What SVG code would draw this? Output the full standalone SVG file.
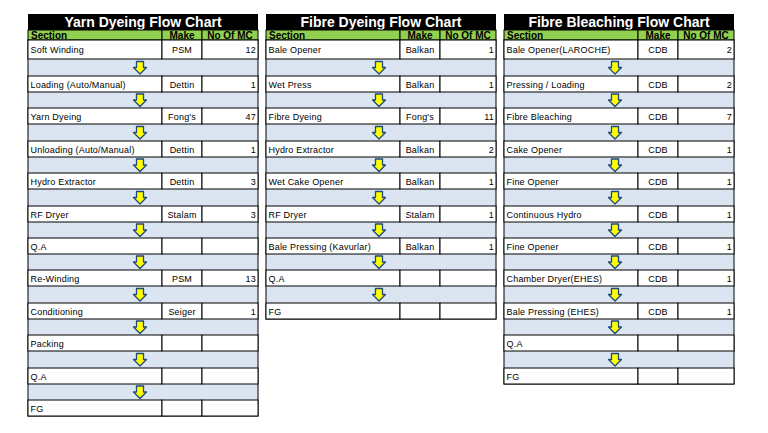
<svg xmlns="http://www.w3.org/2000/svg" width="768" height="433" viewBox="0 0 768 433">
<style>
.bg{fill:#fff}
.ttl{fill:#000}
.ttx{font-family:"Liberation Sans",Arial,sans-serif;font-weight:bold;font-size:14px;fill:#fff;text-anchor:middle}
.hd{fill:#92D050;stroke:#000;stroke-width:1}
.hx{font-family:"Liberation Sans",Arial,sans-serif;font-weight:bold;font-size:10px;fill:#000}
.c{fill:#fff;stroke:#000;stroke-width:1}
.band{fill:#DBE5F1;stroke:#000;stroke-width:1}
.tx{font-family:"Liberation Sans",Arial,sans-serif;font-size:9px;fill:#000;letter-spacing:0.2px}
.m{text-anchor:middle}
.n{text-anchor:end}
.arr{fill:#FFFF00;stroke:#1F497D;stroke-width:1.3;stroke-linejoin:round}
</style>
<defs>
<path id="arw" d="M-3.5,-6 H3.5 V0 H6.5 L0,6.5 L-6.5,0 H-3.5 Z"/>
</defs>
<rect class="bg" x="0" y="0" width="768" height="433"/>

<!-- ============ Table 1: Yarn Dyeing ============ -->
<g id="yarn-table">
<rect class="band" x="28" y="40" width="230" height="376"/>
<g id="yarn-title"><rect class="ttl" x="28" y="14" width="230" height="16"/><text class="ttx" x="143" y="27">Yarn Dyeing Flow Chart</text></g>
<g id="yarn-header">
<rect class="hd" x="28" y="30" width="134" height="10"/><rect class="hd" x="162" y="30" width="40" height="10"/><rect class="hd" x="202" y="30" width="56" height="10"/>
<text class="hx" x="31" y="38.5">Section</text><text class="hx m" x="182" y="38.5">Make</text><text class="hx m" x="230" y="38.5">No Of MC</text>
</g>
<g id="yarn-r0"><rect class="c" x="28" y="40" width="134" height="19"/><rect class="c" x="162" y="40" width="40" height="19"/><rect class="c" x="202" y="40" width="56" height="19"/><text class="tx" x="30.5" y="53">Soft Winding</text><text class="tx m" x="182" y="53">PSM</text><text class="tx n" x="256" y="53">12</text></g>
<g id="yarn-r1"><rect class="c" x="28" y="76" width="134" height="16"/><rect class="c" x="162" y="76" width="40" height="16"/><rect class="c" x="202" y="76" width="56" height="16"/><text class="tx" x="30.5" y="87.5">Loading (Auto/Manual)</text><text class="tx m" x="182" y="87.5">Dettin</text><text class="tx n" x="256" y="87.5">1</text></g>
<g id="yarn-r2"><rect class="c" x="28" y="108" width="134" height="16"/><rect class="c" x="162" y="108" width="40" height="16"/><rect class="c" x="202" y="108" width="56" height="16"/><text class="tx" x="30.5" y="119.5">Yarn Dyeing</text><text class="tx m" x="182" y="119.5">Fong's</text><text class="tx n" x="256" y="119.5">47</text></g>
<g id="yarn-r3"><rect class="c" x="28" y="141" width="134" height="16"/><rect class="c" x="162" y="141" width="40" height="16"/><rect class="c" x="202" y="141" width="56" height="16"/><text class="tx" x="30.5" y="152.5">Unloading (Auto/Manual)</text><text class="tx m" x="182" y="152.5">Dettin</text><text class="tx n" x="256" y="152.5">1</text></g>
<g id="yarn-r4"><rect class="c" x="28" y="173" width="134" height="16"/><rect class="c" x="162" y="173" width="40" height="16"/><rect class="c" x="202" y="173" width="56" height="16"/><text class="tx" x="30.5" y="184.5">Hydro Extractor</text><text class="tx m" x="182" y="184.5">Dettin</text><text class="tx n" x="256" y="184.5">3</text></g>
<g id="yarn-r5"><rect class="c" x="28" y="206" width="134" height="16"/><rect class="c" x="162" y="206" width="40" height="16"/><rect class="c" x="202" y="206" width="56" height="16"/><text class="tx" x="30.5" y="217.5">RF Dryer</text><text class="tx m" x="182" y="217.5">Stalam</text><text class="tx n" x="256" y="217.5">3</text></g>
<g id="yarn-r6"><rect class="c" x="28" y="238" width="134" height="16"/><rect class="c" x="162" y="238" width="40" height="16"/><rect class="c" x="202" y="238" width="56" height="16"/><text class="tx" x="30.5" y="249.5">Q.A</text></g>
<g id="yarn-r7"><rect class="c" x="28" y="270" width="134" height="16"/><rect class="c" x="162" y="270" width="40" height="16"/><rect class="c" x="202" y="270" width="56" height="16"/><text class="tx" x="30.5" y="281.5">Re-Winding</text><text class="tx m" x="182" y="281.5">PSM</text><text class="tx n" x="256" y="281.5">13</text></g>
<g id="yarn-r8"><rect class="c" x="28" y="303" width="134" height="16"/><rect class="c" x="162" y="303" width="40" height="16"/><rect class="c" x="202" y="303" width="56" height="16"/><text class="tx" x="30.5" y="314.5">Conditioning</text><text class="tx m" x="182" y="314.5">Seiger</text><text class="tx n" x="256" y="314.5">1</text></g>
<g id="yarn-r9"><rect class="c" x="28" y="335" width="134" height="16"/><rect class="c" x="162" y="335" width="40" height="16"/><rect class="c" x="202" y="335" width="56" height="16"/><text class="tx" x="30.5" y="346.5">Packing</text></g>
<g id="yarn-r10"><rect class="c" x="28" y="368" width="134" height="16"/><rect class="c" x="162" y="368" width="40" height="16"/><rect class="c" x="202" y="368" width="56" height="16"/><text class="tx" x="30.5" y="379.5">Q.A</text></g>
<g id="yarn-r11"><rect class="c" x="28" y="400" width="134" height="16"/><rect class="c" x="162" y="400" width="40" height="16"/><rect class="c" x="202" y="400" width="56" height="16"/><text class="tx" x="30.5" y="411.5">FG</text></g>
</g>

<!-- ============ Table 2: Fibre Dyeing ============ -->
<g id="fdye-table">
<rect class="band" x="266" y="40" width="230" height="279"/>
<g id="fdye-title"><rect class="ttl" x="266" y="14" width="230" height="16"/><text class="ttx" x="381" y="27">Fibre Dyeing Flow Chart</text></g>
<g id="fdye-header">
<rect class="hd" x="266" y="30" width="134" height="10"/><rect class="hd" x="400" y="30" width="40" height="10"/><rect class="hd" x="440" y="30" width="56" height="10"/>
<text class="hx" x="269" y="38.5">Section</text><text class="hx m" x="420" y="38.5">Make</text><text class="hx m" x="468" y="38.5">No Of MC</text>
</g>
<g id="fdye-r0"><rect class="c" x="266" y="40" width="134" height="19"/><rect class="c" x="400" y="40" width="40" height="19"/><rect class="c" x="440" y="40" width="56" height="19"/><text class="tx" x="268.5" y="53">Bale Opener</text><text class="tx m" x="420" y="53">Balkan</text><text class="tx n" x="494" y="53">1</text></g>
<g id="fdye-r1"><rect class="c" x="266" y="76" width="134" height="16"/><rect class="c" x="400" y="76" width="40" height="16"/><rect class="c" x="440" y="76" width="56" height="16"/><text class="tx" x="268.5" y="87.5">Wet Press</text><text class="tx m" x="420" y="87.5">Balkan</text><text class="tx n" x="494" y="87.5">1</text></g>
<g id="fdye-r2"><rect class="c" x="266" y="108" width="134" height="16"/><rect class="c" x="400" y="108" width="40" height="16"/><rect class="c" x="440" y="108" width="56" height="16"/><text class="tx" x="268.5" y="119.5">Fibre Dyeing</text><text class="tx m" x="420" y="119.5">Fong's</text><text class="tx n" x="494" y="119.5">11</text></g>
<g id="fdye-r3"><rect class="c" x="266" y="141" width="134" height="16"/><rect class="c" x="400" y="141" width="40" height="16"/><rect class="c" x="440" y="141" width="56" height="16"/><text class="tx" x="268.5" y="152.5">Hydro Extractor</text><text class="tx m" x="420" y="152.5">Balkan</text><text class="tx n" x="494" y="152.5">2</text></g>
<g id="fdye-r4"><rect class="c" x="266" y="173" width="134" height="16"/><rect class="c" x="400" y="173" width="40" height="16"/><rect class="c" x="440" y="173" width="56" height="16"/><text class="tx" x="268.5" y="184.5">Wet Cake Opener</text><text class="tx m" x="420" y="184.5">Balkan</text><text class="tx n" x="494" y="184.5">1</text></g>
<g id="fdye-r5"><rect class="c" x="266" y="206" width="134" height="16"/><rect class="c" x="400" y="206" width="40" height="16"/><rect class="c" x="440" y="206" width="56" height="16"/><text class="tx" x="268.5" y="217.5">RF Dryer</text><text class="tx m" x="420" y="217.5">Stalam</text><text class="tx n" x="494" y="217.5">1</text></g>
<g id="fdye-r6"><rect class="c" x="266" y="238" width="134" height="16"/><rect class="c" x="400" y="238" width="40" height="16"/><rect class="c" x="440" y="238" width="56" height="16"/><text class="tx" x="268.5" y="249.5">Bale Pressing (Kavurlar)</text><text class="tx m" x="420" y="249.5">Balkan</text><text class="tx n" x="494" y="249.5">1</text></g>
<g id="fdye-r7"><rect class="c" x="266" y="270" width="134" height="16"/><rect class="c" x="400" y="270" width="40" height="16"/><rect class="c" x="440" y="270" width="56" height="16"/><text class="tx" x="268.5" y="281.5">Q.A</text></g>
<g id="fdye-r8"><rect class="c" x="266" y="303" width="134" height="16"/><rect class="c" x="400" y="303" width="40" height="16"/><rect class="c" x="440" y="303" width="56" height="16"/><text class="tx" x="268.5" y="314.5">FG</text></g>
</g>

<!-- ============ Table 3: Fibre Bleaching ============ -->
<g id="fbl-table">
<rect class="band" x="504" y="40" width="230" height="344"/>
<g id="fbl-title"><rect class="ttl" x="504" y="14" width="230" height="16"/><text class="ttx" x="619" y="27">Fibre Bleaching Flow Chart</text></g>
<g id="fbl-header">
<rect class="hd" x="504" y="30" width="134" height="10"/><rect class="hd" x="638" y="30" width="40" height="10"/><rect class="hd" x="678" y="30" width="56" height="10"/>
<text class="hx" x="507" y="38.5">Section</text><text class="hx m" x="658" y="38.5">Make</text><text class="hx m" x="706" y="38.5">No Of MC</text>
</g>
<g id="fbl-r0"><rect class="c" x="504" y="40" width="134" height="19"/><rect class="c" x="638" y="40" width="40" height="19"/><rect class="c" x="678" y="40" width="56" height="19"/><text class="tx" x="506.5" y="53">Bale Opener(LAROCHE)</text><text class="tx m" x="658" y="53">CDB</text><text class="tx n" x="732" y="53">2</text></g>
<g id="fbl-r1"><rect class="c" x="504" y="76" width="134" height="16"/><rect class="c" x="638" y="76" width="40" height="16"/><rect class="c" x="678" y="76" width="56" height="16"/><text class="tx" x="506.5" y="87.5">Pressing / Loading</text><text class="tx m" x="658" y="87.5">CDB</text><text class="tx n" x="732" y="87.5">2</text></g>
<g id="fbl-r2"><rect class="c" x="504" y="108" width="134" height="16"/><rect class="c" x="638" y="108" width="40" height="16"/><rect class="c" x="678" y="108" width="56" height="16"/><text class="tx" x="506.5" y="119.5">Fibre Bleaching</text><text class="tx m" x="658" y="119.5">CDB</text><text class="tx n" x="732" y="119.5">7</text></g>
<g id="fbl-r3"><rect class="c" x="504" y="141" width="134" height="16"/><rect class="c" x="638" y="141" width="40" height="16"/><rect class="c" x="678" y="141" width="56" height="16"/><text class="tx" x="506.5" y="152.5">Cake Opener</text><text class="tx m" x="658" y="152.5">CDB</text><text class="tx n" x="732" y="152.5">1</text></g>
<g id="fbl-r4"><rect class="c" x="504" y="173" width="134" height="16"/><rect class="c" x="638" y="173" width="40" height="16"/><rect class="c" x="678" y="173" width="56" height="16"/><text class="tx" x="506.5" y="184.5">Fine Opener</text><text class="tx m" x="658" y="184.5">CDB</text><text class="tx n" x="732" y="184.5">1</text></g>
<g id="fbl-r5"><rect class="c" x="504" y="206" width="134" height="16"/><rect class="c" x="638" y="206" width="40" height="16"/><rect class="c" x="678" y="206" width="56" height="16"/><text class="tx" x="506.5" y="217.5">Continuous Hydro</text><text class="tx m" x="658" y="217.5">CDB</text><text class="tx n" x="732" y="217.5">1</text></g>
<g id="fbl-r6"><rect class="c" x="504" y="238" width="134" height="16"/><rect class="c" x="638" y="238" width="40" height="16"/><rect class="c" x="678" y="238" width="56" height="16"/><text class="tx" x="506.5" y="249.5">Fine Opener</text><text class="tx m" x="658" y="249.5">CDB</text><text class="tx n" x="732" y="249.5">1</text></g>
<g id="fbl-r7"><rect class="c" x="504" y="270" width="134" height="16"/><rect class="c" x="638" y="270" width="40" height="16"/><rect class="c" x="678" y="270" width="56" height="16"/><text class="tx" x="506.5" y="281.5">Chamber Dryer(EHES)</text><text class="tx m" x="658" y="281.5">CDB</text><text class="tx n" x="732" y="281.5">1</text></g>
<g id="fbl-r8"><rect class="c" x="504" y="303" width="134" height="16"/><rect class="c" x="638" y="303" width="40" height="16"/><rect class="c" x="678" y="303" width="56" height="16"/><text class="tx" x="506.5" y="314.5">Bale Pressing (EHES)</text><text class="tx m" x="658" y="314.5">CDB</text><text class="tx n" x="732" y="314.5">1</text></g>
<g id="fbl-r9"><rect class="c" x="504" y="335" width="134" height="16"/><rect class="c" x="638" y="335" width="40" height="16"/><rect class="c" x="678" y="335" width="56" height="16"/><text class="tx" x="506.5" y="346.5">Q.A</text></g>
<g id="fbl-r10"><rect class="c" x="504" y="368" width="134" height="16"/><rect class="c" x="638" y="368" width="40" height="16"/><rect class="c" x="678" y="368" width="56" height="16"/><text class="tx" x="506.5" y="379.5">FG</text></g>
</g>

<!-- ============ Connectors (flow arrows) ============ -->
<g id="connectors" class="arr">
<use href="#arw" x="140" y="67.5"/><use href="#arw" x="140" y="100"/><use href="#arw" x="140" y="132.5"/><use href="#arw" x="140" y="165"/><use href="#arw" x="140" y="197.5"/><use href="#arw" x="140" y="230"/><use href="#arw" x="140" y="262"/><use href="#arw" x="140" y="294.5"/><use href="#arw" x="140" y="327"/><use href="#arw" x="140" y="359.5"/><use href="#arw" x="140" y="392"/>
<use href="#arw" x="379" y="67.5"/><use href="#arw" x="379" y="100"/><use href="#arw" x="379" y="132.5"/><use href="#arw" x="379" y="165"/><use href="#arw" x="379" y="197.5"/><use href="#arw" x="379" y="230"/><use href="#arw" x="379" y="262"/><use href="#arw" x="379" y="294.5"/>
<use href="#arw" x="615" y="67.5"/><use href="#arw" x="615" y="100"/><use href="#arw" x="615" y="132.5"/><use href="#arw" x="615" y="165"/><use href="#arw" x="615" y="197.5"/><use href="#arw" x="615" y="230"/><use href="#arw" x="615" y="262"/><use href="#arw" x="615" y="294.5"/><use href="#arw" x="615" y="327"/><use href="#arw" x="615" y="359.5"/>
</g>
</svg>
